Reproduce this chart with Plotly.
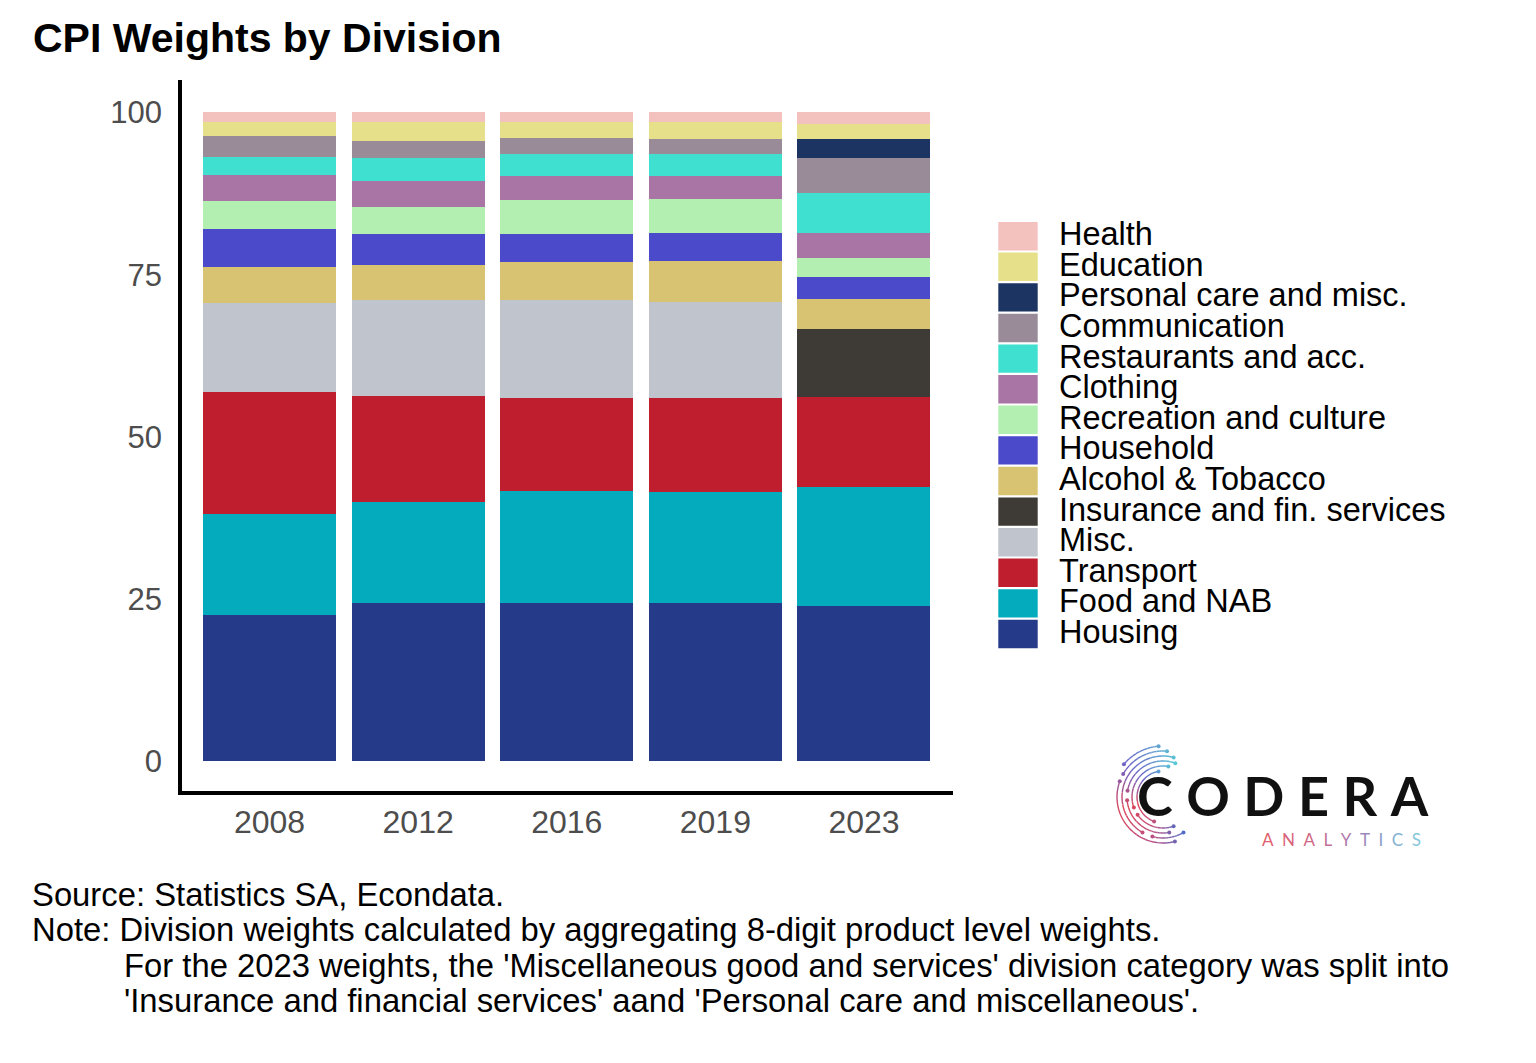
import math
import plotly.graph_objects as go

# ---------------- data ----------------
years = ["2008", "2012", "2016", "2019", "2023"]

# stacking order: bottom -> top
divisions = [
    "Housing", "Food and NAB", "Transport", "Misc.", "Insurance and fin. services",
    "Alcohol & Tobacco", "Household", "Recreation and culture", "Clothing",
    "Restaurants and acc.", "Communication", "Personal care and misc.",
    "Education", "Health",
]
housing = [22.5, 24.45, 24.45, 24.45, 23.99]
food_nab = [15.7, 15.46, 17.2, 17.11, 18.27]
transport = [18.8, 16.44, 14.39, 14.37, 13.93]
misc = [13.6, 14.73, 15.04, 14.9, 0]
insurance = [0, 0, 0, 0, 10.42]
alcohol = [5.6, 5.45, 5.92, 6.26, 4.62]
household = [5.9, 4.78, 4.31, 4.37, 3.35]
recreation = [4.2, 4.1, 5.13, 5.18, 3.03]
clothing = [4.0, 4.07, 3.81, 3.61, 3.79]
restaurants = [2.8, 3.54, 3.28, 3.28, 6.17]
communication = [3.2, 2.62, 2.57, 2.42, 5.45]
personal_care = [0, 0, 0, 0, 2.82]
education = [2.3, 2.96, 2.5, 2.65, 2.42]
health = [1.4, 1.4, 1.4, 1.4, 1.74]

series = [housing, food_nab, transport, misc, insurance, alcohol, household,
          recreation, clothing, restaurants, communication, personal_care,
          education, health]
colors = ["#263A8A", "#04ABBD", "#BE1E2D", "#C0C4CC", "#3E3A35", "#D7C372",
          "#4A4ACB", "#B2EFB0", "#A875A5", "#40E0D0", "#9A8B98", "#1C3461",
          "#E6E08A", "#F4C2BE"]
y_ticks = [0, 25, 50, 75, 100]

title_text = "CPI Weights by Division"
caption_lines = [
    "Source: Statistics SA, Econdata.",
    "Note: Division weights calculated by aggregating 8-digit product level weights.",
    "For the 2023 weights, the 'Miscellaneous good and services' division category was split into",
    "'Insurance and financial services' aand 'Personal care and miscellaneous'.",
]

# ---------------- geometry helpers ----------------
W, H = 1536, 1063
ML, MR, MT, MB = 182, 583, 80, 272
PW, PH = W - ML - MR, H - MT - MB
FONT = "Liberation Sans, Arial, sans-serif"


def px(x):
    return (x - ML) / PW


def py(y):
    return (H - MB - y) / PH


fig = go.Figure()
for name, vals, col in zip(divisions, series, colors):
    fig.add_trace(go.Bar(x=years, y=vals, name=name, marker_color=col,
                         marker_line_width=0, showlegend=False))

annotations = []
shapes = []

# title
annotations.append(dict(text="<b>%s</b>" % title_text, x=px(31), y=py(38),
                        xref="paper", yref="paper", xanchor="left",
                        yanchor="middle", showarrow=False,
                        font=dict(family=FONT, size=41, color="black")))

# caption
cap_x = [31, 31, 123, 123]
cap_y = [895, 930, 965.5, 1000.5]
for t, cx, cy in zip(caption_lines, cap_x, cap_y):
    annotations.append(dict(text=t, x=px(cx), y=py(cy), xref="paper",
                            yref="paper", xanchor="left", yanchor="middle",
                            showarrow=False, borderpad=0,
                            font=dict(family=FONT, size=32.8, color="black")))

# custom legend (top: Health ... bottom: Housing)
leg_names = list(reversed(divisions))
leg_cols = list(reversed(colors))
for i, (n, c) in enumerate(zip(leg_names, leg_cols)):
    cy = 236.2 + i * 30.6
    shapes.append(dict(type="rect", xref="paper", yref="paper",
                       x0=px(998.3), x1=px(1037.7), y0=py(cy + 14.2),
                       y1=py(cy - 14.2), fillcolor=c, line=dict(width=0)))
    annotations.append(dict(text=n, x=px(1058), y=py(cy - 2), xref="paper",
                            yref="paper", xanchor="left", yanchor="middle",
                            showarrow=False, borderpad=0,
                            font=dict(family=FONT, size=32.5, color="black")))

# ---------------- logo ----------------
logo_word = "\u2005".join("CODERA")
annotations.append(dict(text="<b>%s</b>" % logo_word, x=px(1136), y=py(795),
                        xref="paper", yref="paper", xanchor="left",
                        yanchor="middle", showarrow=False, borderpad=0,
                        font=dict(family="Lato, sans-serif", size=54,
                                  color="#111111")))
sub = "ANALYTICS"
sub_cols = ["#E0606E", "#D9637A", "#CF6886", "#C27096", "#B07AAA",
            "#9C88BC", "#8C9CCA", "#84B2D4", "#86C6DC"]
sub_text = "\u2002".join('<span style="color:%s">%s</span>' % (c, ch)
                         for ch, c in zip(sub, sub_cols))
annotations.append(dict(text=sub_text, x=px(1261), y=py(840),
                        xref="paper", yref="paper", xanchor="left",
                        yanchor="middle", showarrow=False, borderpad=0,
                        font=dict(family="Lato, sans-serif", size=17,
                                  color="#C27096")))


def lerp_col(t):
    stops = [(0.0, (90, 200, 215)), (0.3, (110, 100, 200)),
             (0.55, (220, 70, 90)), (0.8, (190, 80, 130)), (1.0, (80, 110, 200))]
    for (t0, c0), (t1, c1) in zip(stops[:-1], stops[1:]):
        if t0 <= t <= t1:
            f = (t - t0) / (t1 - t0) if t1 > t0 else 0
            c = [int(a + (b - a) * f) for a, b in zip(c0, c1)]
            return "rgb(%d,%d,%d)" % tuple(c)
    return "rgb(80,110,200)"


cxl, cyl = 1163, 797
arcs = [(26, 100, 250), (31, 80, 200), (31, 215, 290), (36, 70, 170),
        (36, 185, 280), (41, 75, 240), (41, 255, 300), (46, 85, 150),
        (46, 160, 285), (51, 95, 140)]
for r, a0, a1 in arcs:
    nseg = 10
    for k in range(nseg):
        s0 = a0 + (a1 - a0) * k / nseg
        s1 = a0 + (a1 - a0) * (k + 1) / nseg
        pts = []
        for j in range(5):
            a = math.radians(s0 + (s1 - s0) * j / 4)
            pts.append((cxl + r * math.cos(a), cyl - r * math.sin(a)))
        path = "M " + " L ".join("%.5f %.5f" % (px(x), py(y)) for x, y in pts)
        tmid = ((s0 + s1) / 2 - 70) / 230
        shapes.append(dict(type="path", xref="paper", yref="paper", path=path,
                           line=dict(color=lerp_col(max(0, min(1, tmid))),
                                     width=1.4)))
    for a in (a0, a1):
        ar = math.radians(a)
        ex, ey = cxl + r * math.cos(ar), cyl - r * math.sin(ar)
        tcol = lerp_col(max(0, min(1, (a - 70) / 230)))
        shapes.append(dict(type="circle", xref="paper", yref="paper",
                           x0=px(ex - 2), x1=px(ex + 2), y0=py(ey + 2),
                           y1=py(ey - 2), fillcolor=tcol,
                           line=dict(width=0)))

fig.update_layout(
    width=W, height=H, autosize=False,
    margin=dict(l=ML, r=MR, t=MT, b=MB),
    barmode="stack", bargap=0.105,
    plot_bgcolor="white", paper_bgcolor="white",
    showlegend=False,
    annotations=annotations, shapes=shapes,
    xaxis=dict(type="category", range=[-0.589, 4.599], showline=True,
               linecolor="black", linewidth=3.5, showgrid=False,
               zeroline=False, ticks="", ticklabelstandoff=0,
               tickfont=dict(family=FONT, size=32, color="#4D4D4D")),
    yaxis=dict(range=[-4.55, 105], tickvals=y_ticks,
               ticktext=[str(v) for v in y_ticks], showline=True,
               linecolor="black", linewidth=3.5, showgrid=False,
               zeroline=False, ticks="", ticklabelstandoff=10,
               tickfont=dict(family=FONT, size=31, color="#4D4D4D")),
)

fig.write_html("out.html")
